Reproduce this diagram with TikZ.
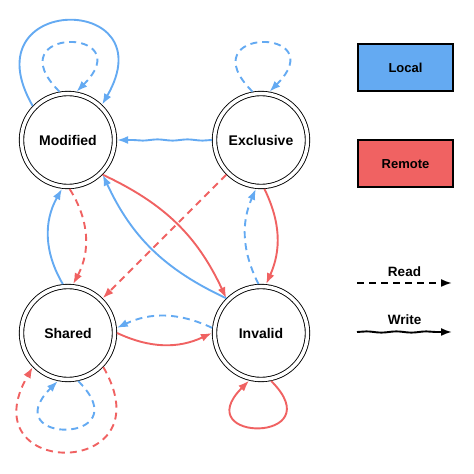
\documentclass[tikz,border=0pt]{standalone}
\usepackage{fontspec}
\setmainfont{Liberation Sans}
\usetikzlibrary{arrows.meta, decorations.pathmorphing}
\definecolor{locblue}{RGB}{100,170,242}
\definecolor{remred}{RGB}{240,98,98}
\begin{document}
\begin{tikzpicture}[x = 1pt, y = 1pt,
  state/.style = {draw, circle, double, double distance = 3.5pt, line width = .9pt, minimum size = 93pt, inner sep = 0pt, outer sep = 2.6pt, font = \fontsize{14}{16}\selectfont\bfseries},
  edge/.style = {line width = 1.9pt, -{Latex[length = 11pt, width = 8pt]}},
  rd/.style = {edge, dash pattern = on 7pt off 5pt},
  wr/.style = {edge},
  wavy/.style = {decorate, decoration = {snake, amplitude = .6pt, segment length = 30pt, post length = 12pt}},
  key/.style = {draw, line width = 2pt, minimum width = 95pt, minimum height = 47pt, font = \fontsize{13}{15}\selectfont\bfseries},
  lbl/.style = {inner sep = 0pt, font = \fontsize{13.5}{15}\selectfont\bfseries},
  loc/.style = {color = locblue},
  rem/.style = {color = remred}]
\useasboundingbox (0,0) rectangle (474,474);
\node (M) [state] at (68,334) {Modified};
\node (E) [state] at (261,334) {Exclusive};
\node (S) [state] at (68,141) {Shared};
\node (I) [state] at (261,141) {Invalid};
% Modified
\draw [wr, loc] (M.136) .. controls +(120:130) and +(60:130) .. (M.46);
\draw [rd, loc] (M.100) .. controls +(135:92) and +(45:92) .. (M.80);
\draw [rd, rem] (M.-88) to[bend left = 30] (S.84);
\draw [wr, rem] (M.-45) to[bend left = 20] (I.135);
% Exclusive
\draw [wr, loc, wavy] (E.west) -- (M.east);
\draw [rd, loc] (E.100) .. controls +(135:92) and +(45:92) .. (E.80);
\draw [rd, rem] (E.-135) -- (S.45);
\draw [wr, rem] (E.-86) to[bend left = 25] (I.84);
% Shared
\draw [wr, loc] (S.96) to[bend left = 30] (M.-97);
\draw [wr, rem] (S.0) to[bend right = 25] (I.180);
\draw [rd, loc] (S.-78) .. controls +(-45:90) and +(-135:90) .. (S.-102);
\draw [rd, rem] (S.-44) .. controls +(-60:130) and +(-120:130) .. (S.-136);
% Invalid
\draw [wr, loc] (I.135) to[bend left = 20] (M.-45);
\draw [rd, loc] (I.93) to[bend left = 25] (E.-96);
\draw [rd, loc] (I.174) to[bend right = 25] (S.6);
\draw [wr, rem] (I.-78) .. controls +(-45:88) and +(-135:88) .. (I.-104);
% legend
\node (Loc) [key, fill = locblue] at (405.5,406.5) {Local};
\node (Rem) [key, fill = remred] at (405.5,310) {Remote};
\coordinate (rd1) at (357,191);
\coordinate (rd2) at (452,191);
\coordinate (wr1) at (357,142);
\coordinate (wr2) at (452,142);
\draw [rd, black] (rd1) -- node [lbl, above = 5pt] {Read} (rd2);
\draw [wr, black, wavy] (wr1) -- node [lbl, above = 6pt] {Write} (wr2);
\end{tikzpicture}
\end{document}
